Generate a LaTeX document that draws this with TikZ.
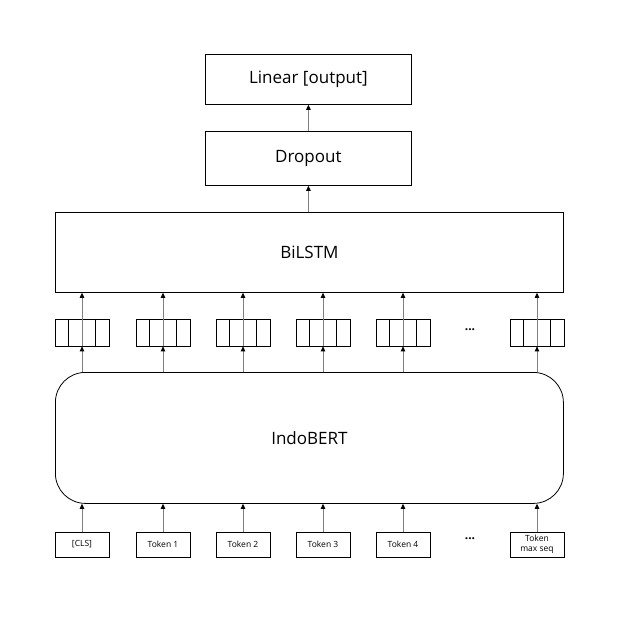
\documentclass[tikz,border=0pt]{standalone}
\usepackage{fontspec}
\setmainfont{Open Sans}
\usetikzlibrary{arrows.meta}
\begin{document}
\begin{tikzpicture}[x=1pt,y=-1pt,
  box/.style={draw,line width=0.8pt,inner sep=0pt,anchor=north west,font=\fontsize{17}{20}\selectfont},
  tok/.style={draw,line width=0.7pt,minimum width=54pt,minimum height=25pt,inner sep=0pt,font=\fontsize{8.5}{9.5}\selectfont,align=center},
  vec/.style={draw,line width=0.7pt,minimum width=54pt,minimum height=27pt,inner sep=0pt},
  arr/.style={draw=gray,line width=0.8pt,-{Triangle[length=5pt,width=4.5pt,color=black]}},
  dots/.style={font=\fontsize{12}{12}\selectfont}]
\useasboundingbox (0,0) rectangle (631,640);
\node[box,minimum width=206pt,minimum height=50pt] (lin) at (205,54) {Linear [output]};
\node[box,minimum width=206pt,minimum height=54pt] (drop) at (205,131) {Dropout};
\node[box,minimum width=508pt,minimum height=80pt] (bil) at (55,212) {BiLSTM};
\node[box,rounded corners=30pt,minimum width=508pt,minimum height=131pt] (bert) at (55,372) {IndoBERT};
\draw[arr] (drop.north) -- (lin.south);
\draw[arr] (bil.north -| drop.north) -- (drop.south);
\foreach \n/\x/\t in {a/82/{[CLS]},b/163/{Token 1},c/243/{Token 2},d/323/{Token 3},e/403/{Token 4},f/537/{Token\\max seq}}{
  \node[vec] (v\n) at (\x,332.5) {};
  \foreach \k in {-13.5,0,13.5} \draw[line width=0.7pt] ([xshift=\k pt]v\n.north) -- ([xshift=\k pt]v\n.south);
  \node[tok] (t\n) at (\x,544.5) {\t};
  \draw[arr] (t\n.north) -- (t\n.north |- bert.south);
  \draw[arr] (v\n.south |- bert.north) -- (v\n.south);
  \draw[arr] (v\n.south) -- (v\n.south |- bil.south);
}
\node[dots] (d1) at (470,330) {\textbf{...}};
\node[dots] (d2) at (470,539) {\textbf{...}};
\end{tikzpicture}
\end{document}
